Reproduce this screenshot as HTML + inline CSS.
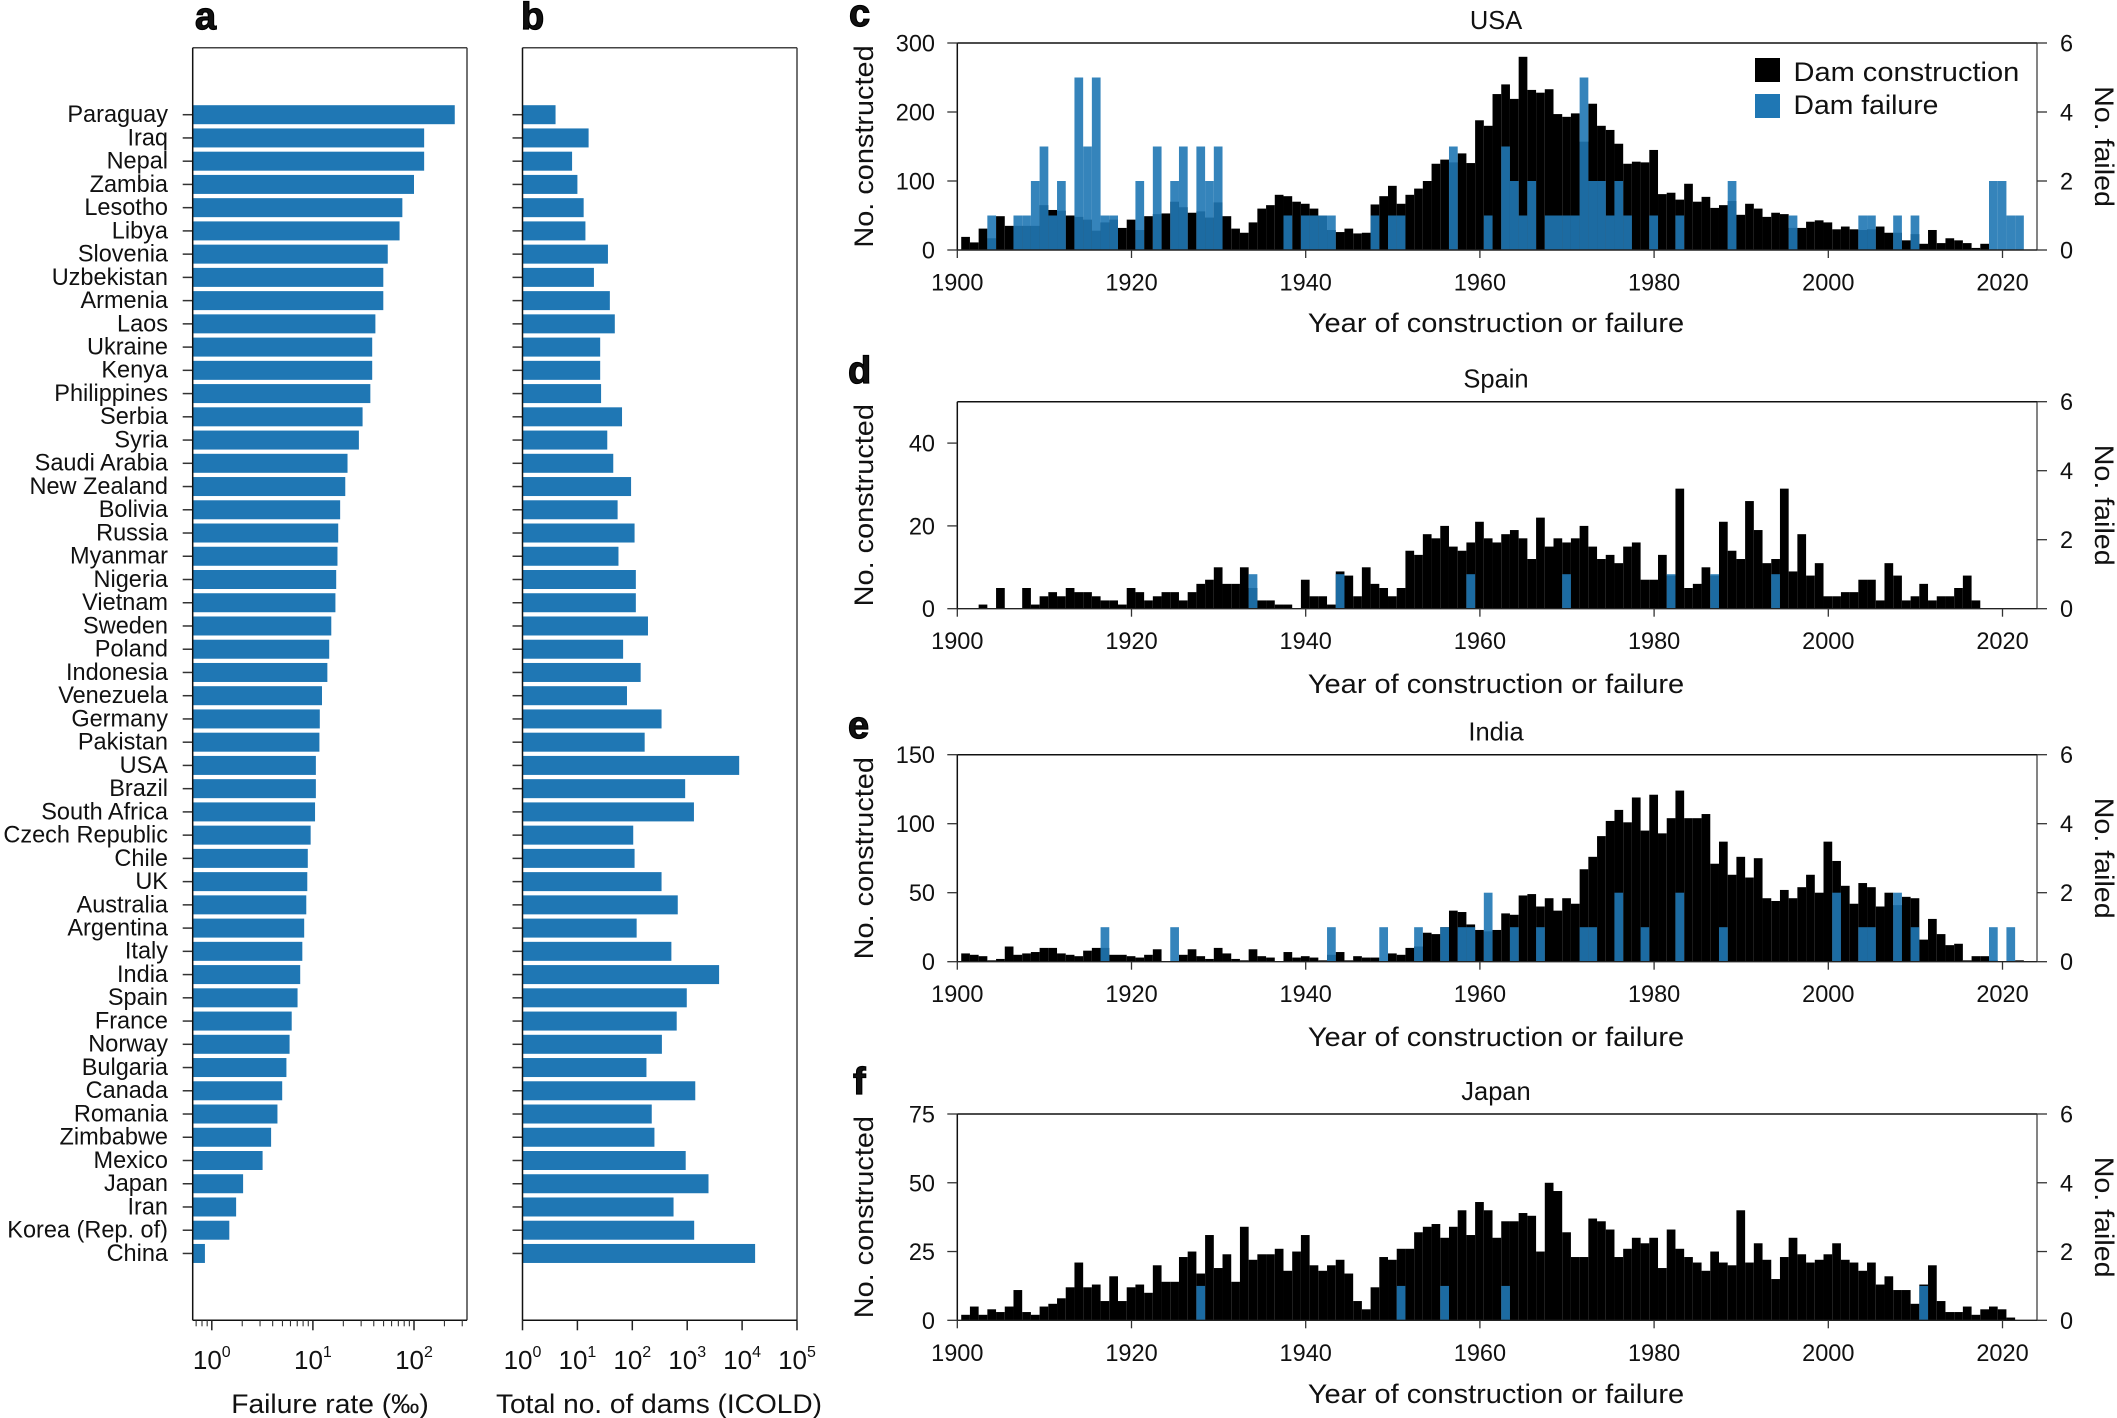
<!DOCTYPE html>
<html lang="en">
<head>
<meta charset="utf-8">
<title>Dam failure rates and construction history</title>
<style>
html,body{margin:0;padding:0;background:#fff;}
svg{display:block;}
text{font-family:"Liberation Sans",sans-serif;fill:#111;}
</style>
</head>
<body>
<svg id="figure" xmlns="http://www.w3.org/2000/svg" width="2117" height="1418" viewBox="0 0 2117 1418">
<rect x="0" y="0" width="2117" height="1418" fill="#fff"/>
<text x="195" y="29" font-size="38" font-weight="bold" stroke="#000" stroke-width="1.2">a</text>
<text x="521" y="29" font-size="38" font-weight="bold" stroke="#000" stroke-width="1.2">b</text>
<text x="849" y="26" font-size="38" font-weight="bold" stroke="#000" stroke-width="1.2">c</text>
<text x="848" y="383" font-size="38" font-weight="bold" stroke="#000" stroke-width="1.2">d</text>
<text x="848" y="738" font-size="38" font-weight="bold" stroke="#000" stroke-width="1.2">e</text>
<text x="853" y="1094" font-size="38" font-weight="bold" stroke="#000" stroke-width="1.2">f</text>
</svg>
<script>
const countries = ["Paraguay","Iraq","Nepal","Zambia","Lesotho","Libya","Slovenia","Uzbekistan","Armenia","Laos","Ukraine","Kenya","Philippines","Serbia","Syria","Saudi Arabia","New Zealand","Bolivia","Russia","Myanmar","Nigeria","Vietnam","Sweden","Poland","Indonesia","Venezuela","Germany","Pakistan","USA","Brazil","South Africa","Czech Republic","Chile","UK","Australia","Argentina","Italy","India","Spain","France","Norway","Bulgaria","Canada","Romania","Zimbabwe","Mexico","Japan","Iran","Korea (Rep. of)","China"];
const failureRates = [253,126,126,100,76.7,72,55,49.7,49.7,41.5,38.6,38.6,37,31,28.5,22,20.9,18.6,17.8,17.5,17,16.7,15.2,14.5,13.9,12.3,11.7,11.6,10.7,10.7,10.5,9.5,8.9,8.8,8.6,8.2,7.86,7.49,7.05,6.17,5.88,5.47,4.97,4.46,3.86,3.18,2.04,1.74,1.49,0.855];
const totalDams = [4,16,8,10,13,14,36,20,39,48,26,26,27,65,35,45,95,54,110,56,116,116,193,68,142,80,341,168,8850,918,1327,104,110,341,673,120,515,3811,982,644,346,181,1403,226,253,939,2443,564,1340,17260];
const rateTickExponents = [0,1,2];
const rateMinorTicks = [0.7,0.8,0.9,2,3,4,5,6,7,8,9,20,30,40,50,60,70,80,90,200,300];
const damsTickExponents = [0,1,2,3,4,5];

const firstYear = 1901;
const yearTicks = [1900,1920,1940,1960,1980,2000,2020];
const failedTicks = [0,2,4,6];

const usaConstructed = [19,11,31,17,49,35,35,35,35,65, 58,57,50,48,44,28,40,44,32,44, 29,49,52,53,70,62,54,56,47,69, 49,31,25,40,60,65,80,78,70,67, 60,50,29,26,31,24,25,66,78,93, 67,80,89,100,125,131,127,140,126,188, 180,226,240,219,280,232,228,233,197,193, 198,157,212,180,174,154,125,128,127,145, 81,83,73,96,70,77,61,65,71,51, 67,60,48,54,52,32,32,41,43,40, 30,34,30,29,30,34,25,25,14,23, 9,29,10,17,14,10,3,9,0,0, 0,0];
const usaFailureYears = [1904,1907,1908,1909,1910,1911,1912,1914,1915,1916,1917,1918,1921,1923,1925,1926,1928,1929,1930,1938,1940,1941,1942,1943,1948,1950,1951,1957,1961,1963,1964,1965,1966,1968,1969,1970,1971,1972,1973,1974,1975,1976,1977,1980,1983,1989,1996,2004,2005,2008,2010,2019,2020,2021,2022];
const usaFailureCounts = [1,1,1,2,3,1,2,5,3,5,1,1,2,3,2,3,3,2,3,1,1,1,1,1,1,1,1,3,1,3,2,1,2,1,1,1,1,5,2,2,1,2,1,1,1,2,1,1,1,1,1,2,2,1,1];
const usaConstructedTicks = [0,100,200,300];

const spainConstructed = [0,0,1,0,5,0,0,5,1,3, 4,3,5,4,4,3,2,2,1,5, 4,2,3,4,4,2,4,6,7,10, 6,6,10,5,2,2,1,1,0,7, 3,3,1,9,8,3,10,6,5,3, 5,14,13,18,17,20,15,14,16,21, 17,16,18,19,17,12,22,15,17,16, 17,20,15,12,13,11,15,16,7,7, 13,8,29,5,6,10,8,21,14,12, 26,19,11,12,29,9,18,8,11,3, 3,4,4,7,7,2,11,8,2,3, 6,2,3,3,5,8,2,0,0,0, 0,0];
const spainFailureYears = [1934,1944,1959,1970,1982,1987,1994];
const spainFailureCounts = [1,1,1,1,1,1,1];
const spainConstructedTicks = [0,20,40];

const indiaConstructed = [6,5,4,1,2,11,5,6,7,10, 10,6,5,4,8,10,10,5,5,4, 3,5,9,0,0,5,9,4,2,10, 6,2,1,9,4,3,0,7,3,4, 3,1,5,7,1,4,3,3,0,6, 5,10,11,21,20,25,37,36,27,23, 22,23,35,34,48,49,40,46,37,46, 42,67,76,91,102,110,101,119,95,121, 93,104,124,104,104,107,71,87,63,76, 61,75,46,44,52,46,54,63,50,87, 73,55,42,57,54,40,50,41,47,46, 16,31,20,12,13,1,4,4,1,0, 0,1];
const indiaFailureYears = [1917,1925,1943,1949,1953,1956,1958,1959,1961,1964,1967,1972,1973,1976,1979,1983,1988,2001,2004,2005,2008,2010,2019,2021];
const indiaFailureCounts = [1,1,1,1,1,1,1,1,2,1,1,1,1,2,1,2,1,2,1,1,2,1,1,1];
const indiaConstructedTicks = [0,50,100,150];

const japanConstructed = [2,5,2,4,3,5,11,3,2,5, 6,8,12,21,12,13,7,16,7,12, 13,10,20,14,14,23,25,17,31,19, 24,14,34,22,24,24,26,18,25,31, 20,18,20,22,17,7,4,12,23,22, 26,26,32,34,35,30,34,40,31,43, 40,30,36,36,39,38,25,50,47,32, 23,23,37,36,33,23,26,30,28,30, 19,33,26,23,21,18,25,21,20,40, 21,28,22,15,23,30,24,21,22,24, 28,22,21,18,21,13,16,11,11,6, 13,20,7,3,3,5,2,4,5,4, 1,0];
const japanFailureYears = [1928,1951,1956,1963,2011];
const japanFailureCounts = [1,1,1,1,1];
const japanConstructedTicks = [0,25,50,75];

const svg = document.getElementById('figure');
const NS = 'http://www.w3.org/2000/svg';
const BLUE = '#1f77b4';
const BLUE_ALPHA = 0.9;

function make(tag, attrs, parent) {
  const el = document.createElementNS(NS, tag);
  for (const k in attrs) el.setAttribute(k, attrs[k]);
  (parent || svg).appendChild(el);
  return el;
}
function line(x1, y1, x2, y2, color, width, parent) {
  return make('line', {x1: x1, y1: y1, x2: x2, y2: y2, stroke: color, 'stroke-width': width}, parent);
}
function label(str, x, y, size, anchor, stretch, rotation, parent) {
  const el = make('text', {
    'font-size': size,
    'text-anchor': anchor,
    transform: 'translate(' + x + ',' + y + ') rotate(' + rotation + ') scale(' + stretch + ',1)'
  }, parent);
  el.textContent = str;
  return el;
}

/* ---------- panels a and b: horizontal log-scale bars ---------- */
const barTop = 47.7, barBottom = 1320.3;
const firstBarY = 114.7, barStep = 23.24, barHeight = 19;

function barCenter(i) { return firstBarY + i * barStep; }
function xRate(v) { return 211.8 + Math.log10(v) * 101.1; }
function xDams(v) { return 522.5 + Math.log10(v) * 54.9; }

function drawFrame(left, right, name) {
  const top = line(left, barTop, right, barTop, '#444', 1.5);
  
  
  const rightSpine = line(right, barTop, right, barBottom, '#444', 1.5);
  
  
  const leftSpine = line(left, barTop, left, barBottom, '#111', 1.5);
  
  
  const bottom = line(left, barBottom, right, barBottom, '#111', 1.5);
  
  
}
function logTickLabel(exponent, x, y, name) {
  const t = make('text', {x: x, y: y, 'font-size': 26, 'text-anchor': 'middle'});
  
  
  const base = make('tspan', {}, t);
  base.textContent = '10';
  const sup = make('tspan', {'font-size': 16, dy: -12}, t);
  sup.textContent = String(exponent);
}

const panelA = make('g', {});


const panelB = make('g', {});



countries.forEach(function (country, i) {
  const y = barCenter(i);
  const slug = country.toLowerCase().replace(/[^a-z]+/g, '-');

  const rateBar = make('rect', {x: 192.7, y: y - barHeight / 2, width: xRate(failureRates[i]) - 192.7, height: barHeight, fill: BLUE}, panelA);
  
  

  const tickA = line(182.7, y, 192.7, y, '#333', 1.5, panelA);
  
  

  const name = label(country, 168, y + 7.4, 24, 'end', 0.98, 0, panelA);
  
  

  const damsBar = make('rect', {x: 522.5, y: y - barHeight / 2, width: xDams(totalDams[i]) - 522.5, height: barHeight, fill: BLUE}, panelB);
  
  

  const tickB = line(512.5, y, 522.5, y, '#333', 1.5, panelB);
  
  
});

drawFrame(192.7, 467, 'rate');
drawFrame(522.5, 797, 'dams');

rateMinorTicks.forEach(function (v) {
  const x = xRate(v);
  const t = line(x, barBottom, x, barBottom + 6, '#333', 1.1);
  
  
});
rateTickExponents.forEach(function (e) {
  const x = xRate(Math.pow(10, e));
  const t = line(x, barBottom, x, barBottom + 10, '#222', 1.5);
  
  
  logTickLabel(e, x, 1369, 'rate-x-tick-label');
});
damsTickExponents.forEach(function (e) {
  const x = xDams(Math.pow(10, e));
  const t = line(x, barBottom, x, barBottom + 10, '#222', 1.5);
  
  
  logTickLabel(e, x, 1369, 'dams-x-tick-label');
});

const rateTitle = label('Failure rate (\u2030)', 330, 1413, 27, 'middle', 1.045, 0);


const damsTitle = label('Total no. of dams (ICOLD)', 659, 1413, 27, 'middle', 1.04, 0);



/* ---------- panels c-f: yearly histograms ---------- */
const histLeft = 957.3, histRight = 2037, pxPerYear = 8.71, barOffset = 0.55;
function xYear(year) { return histLeft + (year - 1900) * pxPerYear; }

function drawHistogram(title, slug, top, base, xTitleBase, yMax, constructed, failYears, failCounts, yTicks) {
  const height = base - top;
  const yBuilt = function (v) { return base - v / yMax * height; };
  const yFailed = function (v) { return base - v / 6 * height; };
  const g = make('g', {});
  
  

  constructed.forEach(function (v, i) {
    if (v <= 0) return;
    const year = firstYear + i;
    const r = make('rect', {x: xYear(year - barOffset), y: yBuilt(v), width: pxPerYear, height: base - yBuilt(v), fill: '#000'}, g);
    
    
  });
  failYears.forEach(function (year, i) {
    const v = failCounts[i];
    const r = make('rect', {x: xYear(year - barOffset), y: yFailed(v), width: pxPerYear, height: base - yFailed(v), fill: BLUE, 'fill-opacity': BLUE_ALPHA}, g);
    
    
  });

  const topSpine = line(histLeft, top, histRight, top, '#111', 1.5, g);
  
  
  const leftSpine = line(histLeft, top, histLeft, base, '#111', 1.5, g);
  
  
  const rightSpine = line(histRight, top, histRight, base, '#333', 1.2, g);
  
  
  const bottomSpine = line(histLeft, base, histRight, base, '#222', 1.4, g);
  
  

  yearTicks.forEach(function (year) {
    const x = xYear(year);
    const t = line(x, base, x, base + 8, '#333', 1.3, g);
    
    
    const l = label(String(year), x, base + 40.5, 24, 'middle', 0.98, 0, g);
    
    
  });
  yTicks.forEach(function (v) {
    const y = yBuilt(v);
    const t = line(histLeft - 10, y, histLeft, y, '#333', 1.3, g);
    
    
    const l = label(String(v), 935, y + 8.5, 24, 'end', 0.98, 0, g);
    
    
  });
  failedTicks.forEach(function (v) {
    const y = yFailed(v);
    const t = line(histRight, y, histRight + 10, y, '#333', 1.3, g);
    
    
    const l = label(String(v), 2060, y + 8.5, 24, 'start', 0.98, 0, g);
    
    
  });

  const mid = (top + base) / 2;
  const titleEl = label(title, 1496, top - 14, 26, 'middle', 0.98, 0, g);
  
  
  const xTitle = label('Year of construction or failure', 1496, xTitleBase, 27, 'middle', 1.075, 0, g);
  
  
  const yTitle = label('No. constructed', 873, mid, 27, 'middle', 1.07, -90, g);
  
  
  const y2Title = label('No. failed', 2095, mid, 27, 'middle', 1.06, 90, g);
  
  
}

drawHistogram('USA', 'usa', 43, 250, 332, 300, usaConstructed, usaFailureYears, usaFailureCounts, usaConstructedTicks);
drawHistogram('Spain', 'spain', 401.7, 608.7, 693, 50, spainConstructed, spainFailureYears, spainFailureCounts, spainConstructedTicks);
drawHistogram('India', 'india', 754.7, 961.7, 1046, 150, indiaConstructed, indiaFailureYears, indiaFailureCounts, indiaConstructedTicks);
drawHistogram('Japan', 'japan', 1114, 1320.3, 1403, 75, japanConstructed, japanFailureYears, japanFailureCounts, japanConstructedTicks);

/* ---------- legend ---------- */
const legend = make('g', {});


const swatchBuilt = make('rect', {x: 1755, y: 58, width: 25, height: 24, fill: '#000'}, legend);


const swatchFailed = make('rect', {x: 1755, y: 94, width: 25, height: 24, fill: BLUE}, legend);


const legendBuilt = label('Dam construction', 1793.5, 81, 27, 'start', 1.075, 0, legend);


const legendFailed = label('Dam failure', 1793.5, 114, 27, 'start', 1.05, 0, legend);


</script>
</body>
</html>
